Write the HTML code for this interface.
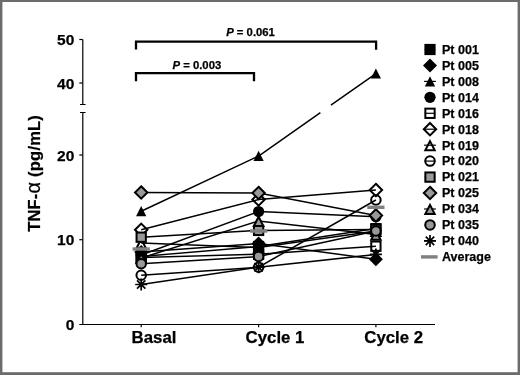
<!DOCTYPE html>
<html><head><meta charset="utf-8"><title>TNF-α</title>
<style>
html,body{margin:0;padding:0;background:#fff;}
body{width:520px;height:375px;overflow:hidden;position:relative;}
svg{position:absolute;left:0;top:0;}
text{font-family:"Liberation Sans",sans-serif;font-weight:bold;fill:#000;stroke:#000;stroke-width:0.25px;}
.tk{font-size:15.5px;}
.xl{font-size:16.8px;}
.lg{font-size:12.5px;}
.pv{font-size:11.3px;}
.yl{font-size:16.5px;}
</style></head><body>
<svg width="520" height="375" viewBox="0 0 520 375">
<rect x="0" y="0" width="520" height="375" fill="#fff"/>
<rect x="0" y="0" width="520" height="2" fill="#6b6b6b"/><rect x="0" y="372.2" width="520" height="2.8" fill="#6b6b6b"/><rect x="0" y="0" width="2.4" height="375" fill="#6b6b6b"/><rect x="517.6" y="0" width="2.4" height="375" fill="#6b6b6b"/>
<g stroke="#000" stroke-width="1.2" fill="none"><path d="M82.8,39.5V104.5M80,104.5H85.6M82.8,112.5V324.5M80,112.5H85.6"/><path d="M79.3,324.5H435"/><path d="M79.3,39.5H82.8"/><path d="M79.3,83H82.8"/><path d="M79.3,155H82.8"/><path d="M79.3,239.7H82.8"/><path d="M141.2,324.5V327.3"/><path d="M258.6,324.5V327.3"/><path d="M375.9,324.5V327.3"/></g>
<text class="tk" x="74.3" y="45.1" text-anchor="end">50</text><text class="tk" x="74.3" y="88.6" text-anchor="end">40</text><text class="tk" x="74.3" y="160.6" text-anchor="end">20</text><text class="tk" x="74.3" y="245.3" text-anchor="end">10</text><text class="tk" x="74.3" y="330.1" text-anchor="end">0</text>
<text class="xl" x="131.6" y="343">Basal</text><text class="xl" x="245.6" y="343">Cycle 1</text><text class="xl" x="364.3" y="343">Cycle 2</text>
<text class="yl" transform="translate(40.2,231.8) rotate(-90)" letter-spacing="0.2">TNF-<tspan font-weight="normal" font-size="20px">α</tspan> (pg/mL)</text>
<g stroke="#000" stroke-width="2.3" fill="none" stroke-linejoin="miter"><path d="M136,49.6V41.7H376.1V49.8"/><path d="M136,81.2V73.2H254V81.2"/></g>
<text class="pv" x="226.2" y="36.3"><tspan font-style="italic">P</tspan> = 0.061</text><text class="pv" x="172.5" y="69.3"><tspan font-style="italic">P</tspan> = 0.003</text>
<path d="M141.2,256.4L258.6,246.5L375.9,228.6" stroke="#000" stroke-width="1.5" fill="none"/><rect x="135.6" y="250.8" width="11.2" height="11.2" fill="#000"/><rect x="253.0" y="240.9" width="11.2" height="11.2" fill="#000"/><rect x="370.3" y="223.0" width="11.2" height="11.2" fill="#000"/>
<path d="M141.2,252L258.6,243.5L375.9,259.3" stroke="#000" stroke-width="1.5" fill="none"/><polygon points="141.2,245.0 148.2,252.0 141.2,259.0 134.2,252.0" fill="#000"/><polygon points="258.6,236.5 265.6,243.5 258.6,250.5 251.6,243.5" fill="#000"/><polygon points="375.9,252.3 382.9,259.3 375.9,266.3 368.9,259.3" fill="#000"/>
<path d="M141.2,211.2L258.6,156L320.4,112.6M330.9,105.2L375.9,73.6" stroke="#000" stroke-width="1.5" fill="none"/><polygon points="141.2,206.0 146.3,216.2 136.1,216.2" fill="#000"/><polygon points="258.6,150.8 263.7,161.0 253.5,161.0" fill="#000"/><polygon points="375.9,68.4 381.0,78.6 370.8,78.6" fill="#000"/>
<path d="M141.2,255L258.6,211.5L375.9,216.8" stroke="#000" stroke-width="1.5" fill="none"/><circle cx="141.2" cy="255.0" r="5.6" fill="#000"/><circle cx="258.6" cy="211.5" r="5.6" fill="#000"/><circle cx="375.9" cy="216.8" r="5.6" fill="#000"/>
<path d="M141.2,257.5L258.6,254.3L375.9,246.2" stroke="#000" stroke-width="1.5" fill="none"/><rect x="136.55" y="252.85" width="9.3" height="9.3" fill="none" stroke="#000" stroke-width="2.0"/><rect x="253.95" y="249.65" width="9.3" height="9.3" fill="none" stroke="#000" stroke-width="2.0"/><rect x="371.25" y="241.55" width="9.3" height="9.3" fill="none" stroke="#000" stroke-width="2.0"/>
<path d="M141.2,229.8L258.6,199.5L375.9,190" stroke="#000" stroke-width="1.5" fill="none"/><polygon points="141.2,223.6 147.4,229.8 141.2,236.0 135.0,229.8" fill="none" stroke="#000" stroke-width="2.0"/><polygon points="258.6,193.3 264.8,199.5 258.6,205.7 252.4,199.5" fill="none" stroke="#000" stroke-width="2.0"/><polygon points="375.9,183.8 382.1,190.0 375.9,196.2 369.7,190.0" fill="none" stroke="#000" stroke-width="2.0"/>
<path d="M141.2,243.1L258.6,247.5L375.9,231" stroke="#000" stroke-width="1.5" fill="none"/><polygon points="141.2,239.0 145.9,248.2 136.5,248.2" fill="none" stroke="#000" stroke-width="2.0"/><polygon points="258.6,243.4 263.3,252.6 253.9,252.6" fill="none" stroke="#000" stroke-width="2.0"/><polygon points="375.9,226.9 380.6,236.1 371.2,236.1" fill="none" stroke="#000" stroke-width="2.0"/>
<path d="M141.2,275.3L258.6,267.2L375.9,200" stroke="#000" stroke-width="1.5" fill="none"/><circle cx="141.2" cy="275.3" r="4.75" fill="none" stroke="#000" stroke-width="2.0"/><circle cx="258.6" cy="267.2" r="4.75" fill="none" stroke="#000" stroke-width="2.0"/><circle cx="375.9" cy="200.0" r="4.75" fill="none" stroke="#000" stroke-width="2.0"/>
<path d="M141.2,237.2L258.6,230.4L375.9,229.5" stroke="#000" stroke-width="1.5" fill="none"/><rect x="136.55" y="232.55" width="9.3" height="9.3" fill="#999" stroke="#000" stroke-width="2.0"/><rect x="253.95" y="225.75" width="9.3" height="9.3" fill="#999" stroke="#000" stroke-width="2.0"/><rect x="371.25" y="224.85" width="9.3" height="9.3" fill="#999" stroke="#000" stroke-width="2.0"/>
<path d="M141.2,192.5L258.6,193L375.9,215.4" stroke="#000" stroke-width="1.5" fill="none"/><polygon points="141.2,186.3 147.4,192.5 141.2,198.7 135.0,192.5" fill="#999" stroke="#000" stroke-width="2.0"/><polygon points="258.6,186.8 264.8,193.0 258.6,199.2 252.4,193.0" fill="#999" stroke="#000" stroke-width="2.0"/><polygon points="375.9,209.2 382.1,215.4 375.9,221.6 369.7,215.4" fill="#999" stroke="#000" stroke-width="2.0"/>
<path d="M141.2,258L258.6,220.9L375.9,234.6" stroke="#000" stroke-width="1.5" fill="none"/><polygon points="141.2,253.9 145.9,263.1 136.5,263.1" fill="#999" stroke="#000" stroke-width="2.0"/><polygon points="258.6,216.8 263.3,226.0 253.9,226.0" fill="#999" stroke="#000" stroke-width="2.0"/><polygon points="375.9,230.5 380.6,239.7 371.2,239.7" fill="#999" stroke="#000" stroke-width="2.0"/>
<path d="M141.2,263.8L258.6,256.5L375.9,230.9" stroke="#000" stroke-width="1.5" fill="none"/><circle cx="141.2" cy="263.8" r="4.75" fill="#999" stroke="#000" stroke-width="2.0"/><circle cx="258.6" cy="256.5" r="4.75" fill="#999" stroke="#000" stroke-width="2.0"/><circle cx="375.9" cy="230.9" r="4.75" fill="#999" stroke="#000" stroke-width="2.0"/>
<path d="M141.2,284.5L258.6,267.2L375.9,254.4" stroke="#000" stroke-width="1.5" fill="none"/><path d="M135.2,284.5H147.2M141.2,278.5V290.5M137.0,280.3L145.4,288.7M137.0,288.7L145.4,280.3" stroke="#000" stroke-width="1.7" fill="none"/><path d="M252.6,267.2H264.6M258.6,261.2V273.2M254.4,263.0L262.8,271.4M254.4,271.4L262.8,263.0" stroke="#000" stroke-width="1.7" fill="none"/><path d="M369.9,254.4H381.9M375.9,248.4V260.4M371.7,250.2L380.1,258.6M371.7,258.6L380.1,250.2" stroke="#000" stroke-width="1.7" fill="none"/>
<rect x="132.6" y="247.3" width="17.2" height="3.4" fill="#808080"/><rect x="250.0" y="229.3" width="17.2" height="3.4" fill="#808080"/><rect x="367.3" y="205.6" width="17.2" height="3.4" fill="#808080"/>
<path d="M424.7,49.5H435.3" stroke="#000" stroke-width="1.2"/><rect x="424.4" y="43.9" width="11.2" height="11.2" fill="#000"/><text class="lg" x="442" y="53.8">Pt 001</text>
<path d="M424.7,65.5H435.3" stroke="#000" stroke-width="1.2"/><polygon points="430.0,58.5 437.0,65.5 430.0,72.5 423.0,65.5" fill="#000"/><text class="lg" x="442" y="69.8">Pt 005</text>
<path d="M424.1,81.4H435.9" stroke="#000" stroke-width="1.2"/><polygon points="430.0,76.2 435.1,86.4 424.9,86.4" fill="#000"/><text class="lg" x="442" y="85.7">Pt 008</text>
<path d="M424.7,97.3H435.3" stroke="#000" stroke-width="1.2"/><circle cx="430.0" cy="97.3" r="5.6" fill="#000"/><text class="lg" x="442" y="101.6">Pt 014</text>
<path d="M424.7,113.3H435.3" stroke="#000" stroke-width="1.2"/><rect x="425.35" y="108.65" width="9.3" height="9.3" fill="none" stroke="#000" stroke-width="2.0"/><text class="lg" x="442" y="117.6">Pt 016</text>
<path d="M424.7,129.2H435.3" stroke="#000" stroke-width="1.2"/><polygon points="430.0,123.0 436.2,129.2 430.0,135.4 423.8,129.2" fill="none" stroke="#000" stroke-width="2.0"/><text class="lg" x="442" y="133.6">Pt 018</text>
<path d="M424.1,145.2H435.9" stroke="#000" stroke-width="1.2"/><polygon points="430.0,141.1 434.7,150.3 425.3,150.3" fill="none" stroke="#000" stroke-width="2.0"/><text class="lg" x="442" y="149.5">Pt 019</text>
<path d="M424.7,161.1H435.3" stroke="#000" stroke-width="1.2"/><circle cx="430.0" cy="161.1" r="4.75" fill="none" stroke="#000" stroke-width="2.0"/><text class="lg" x="442" y="165.4">Pt 020</text>
<path d="M424.7,177.1H435.3" stroke="#000" stroke-width="1.2"/><rect x="425.35" y="172.45" width="9.3" height="9.3" fill="#999" stroke="#000" stroke-width="2.0"/><text class="lg" x="442" y="181.4">Pt 021</text>
<path d="M424.7,193.0H435.3" stroke="#000" stroke-width="1.2"/><polygon points="430.0,186.8 436.2,193.0 430.0,199.2 423.8,193.0" fill="#999" stroke="#000" stroke-width="2.0"/><text class="lg" x="442" y="197.3">Pt 025</text>
<path d="M424.1,209.0H435.9" stroke="#000" stroke-width="1.2"/><polygon points="430.0,204.9 434.7,214.1 425.3,214.1" fill="#999" stroke="#000" stroke-width="2.0"/><text class="lg" x="442" y="213.3">Pt 034</text>
<path d="M424.7,224.9H435.3" stroke="#000" stroke-width="1.2"/><circle cx="430.0" cy="224.9" r="4.75" fill="#999" stroke="#000" stroke-width="2.0"/><text class="lg" x="442" y="229.2">Pt 035</text>
<path d="M424.7,240.9H435.3" stroke="#000" stroke-width="1.2"/><path d="M424.0,240.9H436.0M430.0,234.9V246.9M425.8,236.7L434.2,245.1M425.8,245.1L434.2,236.7" stroke="#000" stroke-width="1.7" fill="none"/><text class="lg" x="442" y="245.2">Pt 040</text>
<rect x="421" y="255.2" width="16.6" height="3.4" fill="#808080"/><text class="lg" x="442" y="261.1">Average</text>
</svg>
</body></html>
